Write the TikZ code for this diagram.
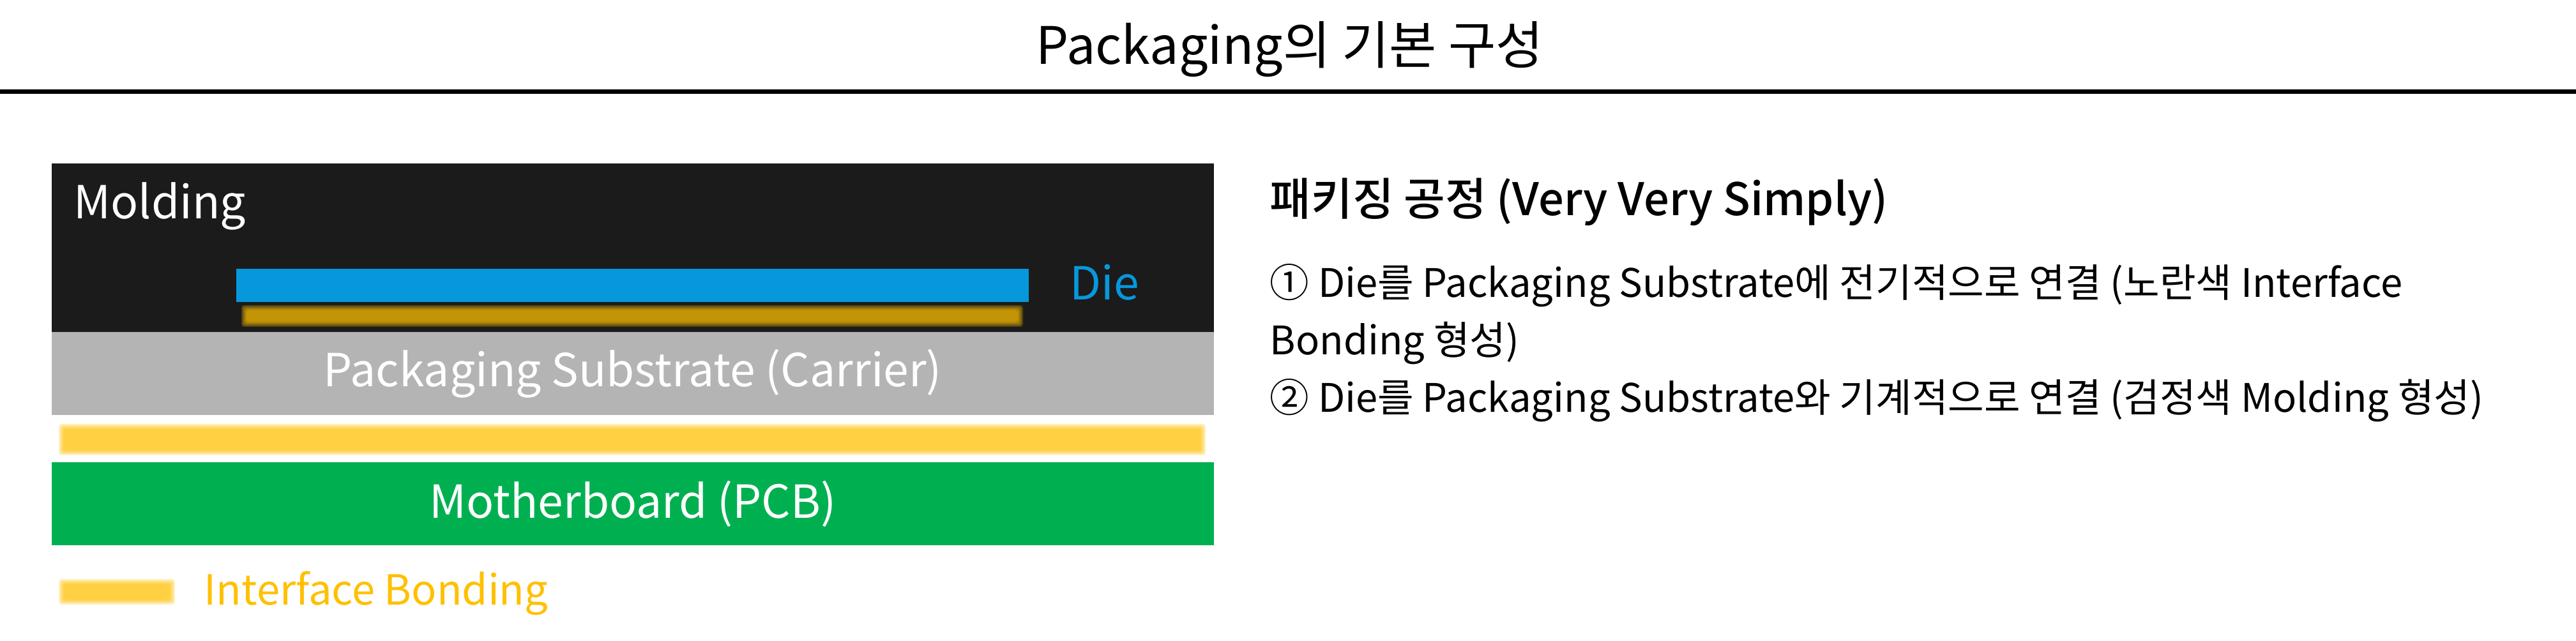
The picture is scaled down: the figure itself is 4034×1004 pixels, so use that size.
\documentclass[tikz,border=0pt]{standalone}
\usepackage{fontspec}
\setmainfont{Noto Sans CJK KR}
\newfontfamily\headfont{Noto Sans CJK KR Medium}
\definecolor{moldblack}{HTML}{1B1B1B}
\definecolor{dieblue}{HTML}{0798DC}
\definecolor{subgray}{HTML}{B4B4B4}
\definecolor{pcbgreen}{HTML}{00B050}
\definecolor{bondgold}{HTML}{FFC000}
% soft-edged bonding bar: x1 y1 x2 y2
\newcommand{\bondbar}[4]{%
	\foreach \d in {-4,-2,0,2,4}
		\fill[bondgold,fill opacity=0.24,rounded corners=0.04cm] ({#1-\d},{#2-\d}) rectangle ({#3+\d},{#4+\d});}
\begin{document}
\begin{tikzpicture}[x=0.01cm,y=-0.01cm,font=\fontsize{20.3}{24}\selectfont,
	layer/.style={inner sep=0pt,minimum width=18.18cm,text=white},
	note/.style={anchor=base west,inner sep=0pt,font=\fontsize{17.5}{21}\selectfont}]
	\useasboundingbox (0,0) rectangle (4034,1004);
	% title
	\node (title) at (2020,77) {\fontsize{23}{27}\selectfont Packaging의 기본 구성};
	\draw[line width=0.07cm] (0,143.5)--(4034,143.5);
	% layers
	\node (mold) [layer,fill=moldblack,minimum height=2.64cm] at (991,388) {};
	\node (moldlabel) [anchor=base west,inner sep=0pt,text=white] at (115,343) {Molding};
	\node (die) [inner sep=0pt,fill=dieblue,minimum width=12.41cm,minimum height=0.52cm] at (990.5,447) {};
	\node (dielabel) [anchor=base west,inner sep=0pt,text=dieblue] at (1675,470) {Die};
	\bondbar{382}{482}{1598}{508}
	\node (sub) [layer,fill=subgray,minimum height=1.30cm] at (991,585) {Packaging Substrate (Carrier)};
	\bondbar{96}{668}{1884}{709}
	\node (pcb) [layer,fill=pcbgreen,minimum height=1.30cm] at (991,789) {Motherboard (PCB)};
	% legend
	\bondbar{96}{911}{270}{943}
	\node (legend) [anchor=base west,inner sep=0pt,text=bondgold,font=\fontsize{18.5}{22}\selectfont] at (319,947) {Interface Bonding};
	% process notes
	\node (head) [note,font=\fontsize{20}{24}\headfont] at (1988,338) {패키징 공정 (Very Very Simply)};
	\node (step1) [note] at (1988,466) {① Die를 Packaging Substrate에 전기적으로 연결 (노란색 Interface};
	\node (step1b) [note] at (1988,556) {Bonding 형성)};
	\node (step2) [note] at (1988,646) {② Die를 Packaging Substrate와 기계적으로 연결 (검정색 Molding 형성)};
\end{tikzpicture}
\end{document}
